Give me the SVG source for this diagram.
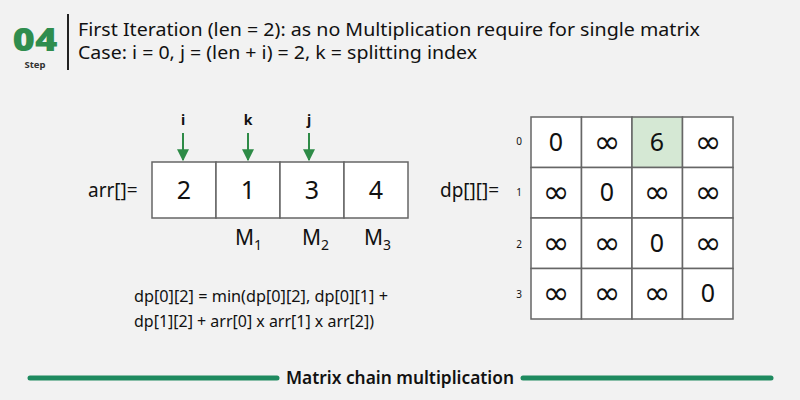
<svg xmlns="http://www.w3.org/2000/svg" width="800" height="400" viewBox="0 0 800 400">
<defs>
<style>
text{font-family:"Noto Sans","Open Sans",sans-serif;fill:#111}
.ttl{font-size:18.5px}
.cell{fill:#fff;stroke:#666;stroke-width:1.5}
.num{font-size:25px;text-anchor:middle}
.inf{font-family:"DejaVu Sans",sans-serif;font-size:32px;text-anchor:middle}
.lab{font-size:19px}
.idx{font-size:10px;text-anchor:middle}
.ptr{font-size:14px;font-weight:bold;text-anchor:middle}
.arr{stroke:#2e8b47;stroke-width:2}
.foot{stroke:#1e8a5f;stroke-width:5;stroke-linecap:round}
</style>
<marker id="ah" viewBox="0 0 10 10" refX="9" refY="5" markerWidth="6" markerHeight="6" orient="auto" markerUnits="strokeWidth"><path d="M0,0L10,5L0,10z" fill="#2e8b47"/></marker>
</defs>
<rect width="800" height="400" fill="#f2f2f2"/>
<g id="header">
<text x="35" y="51" style="font-size:32px;font-weight:900;fill:#2f8d4e" text-anchor="middle" textLength="45" lengthAdjust="spacingAndGlyphs">04</text>
<text x="35" y="68" style="font-size:9.5px;font-weight:bold;fill:#333" text-anchor="middle">Step</text>
<line x1="68" y1="14" x2="68" y2="70" stroke="#222" stroke-width="2"/>
<text class="ttl" x="78" y="36" textLength="622" lengthAdjust="spacingAndGlyphs">First Iteration (len = 2): as no Multiplication require for single matrix</text>
<text class="ttl" x="78" y="59" textLength="399" lengthAdjust="spacingAndGlyphs">Case: i = 0, j = (len + i) = 2, k = splitting index</text>
</g>
<g id="array">
<text class="lab" x="88" y="197">arr[]=</text>
<rect class="cell" x="152" y="162" width="64" height="56"/>
<rect class="cell" x="216" y="162" width="64" height="56"/>
<rect class="cell" x="280" y="162" width="64" height="56"/>
<rect class="cell" x="344" y="162" width="64" height="56"/>
<text class="num" x="184" y="199">2</text>
<text class="num" x="248" y="199">1</text>
<text class="num" x="312" y="199">3</text>
<text class="num" x="376" y="199">4</text>
<text class="lab" x="235" y="245" style="font-size:21px">M<tspan dy="5" style="font-size:14px">1</tspan></text>
<text class="lab" x="302" y="245" style="font-size:21px">M<tspan dy="5" style="font-size:14px">2</tspan></text>
<text class="lab" x="364" y="245" style="font-size:21px">M<tspan dy="5" style="font-size:14px">3</tspan></text>
</g>
<g id="pointers">
<text class="ptr" x="183" y="125">i</text>
<text class="ptr" x="248" y="125">k</text>
<text class="ptr" x="309" y="125">j</text>
<line class="arr" x1="183" y1="133" x2="183" y2="160" marker-end="url(#ah)"/>
<line class="arr" x1="248" y1="133" x2="248" y2="160" marker-end="url(#ah)"/>
<line class="arr" x1="309" y1="133" x2="309" y2="160" marker-end="url(#ah)"/>
</g>
<g id="formula">
<text x="134" y="302" style="font-size:15.5px" textLength="254" lengthAdjust="spacingAndGlyphs">dp[0][2] = min(dp[0][2], dp[0][1] +</text>
<text x="134" y="327" style="font-size:15.5px" textLength="240" lengthAdjust="spacingAndGlyphs">dp[1][2] + arr[0] x arr[1] x arr[2])</text>
</g>
<g id="dp">
<text class="lab" x="440" y="197">dp[][]=</text>
<text class="idx" x="519" y="145">0</text>
<text class="idx" x="519" y="196">1</text>
<text class="idx" x="519" y="248">2</text>
<text class="idx" x="519" y="298">3</text>
<g>
<rect class="cell" x="531" y="117" width="50.5" height="50.5"/>
<rect class="cell" x="581.5" y="117" width="50.5" height="50.5"/>
<rect class="cell" x="632" y="117" width="50.5" height="50.5" style="fill:#d5e8d4"/>
<rect class="cell" x="682.5" y="117" width="50.5" height="50.5"/>
<rect class="cell" x="531" y="167.5" width="50.5" height="50.5"/>
<rect class="cell" x="581.5" y="167.5" width="50.5" height="50.5"/>
<rect class="cell" x="632" y="167.5" width="50.5" height="50.5"/>
<rect class="cell" x="682.5" y="167.5" width="50.5" height="50.5"/>
<rect class="cell" x="531" y="218" width="50.5" height="50.5"/>
<rect class="cell" x="581.5" y="218" width="50.5" height="50.5"/>
<rect class="cell" x="632" y="218" width="50.5" height="50.5"/>
<rect class="cell" x="682.5" y="218" width="50.5" height="50.5"/>
<rect class="cell" x="531" y="268.5" width="50.5" height="50.5"/>
<rect class="cell" x="581.5" y="268.5" width="50.5" height="50.5"/>
<rect class="cell" x="632" y="268.5" width="50.5" height="50.5"/>
<rect class="cell" x="682.5" y="268.5" width="50.5" height="50.5"/>
</g>
<text class="num" x="556" y="151">0</text>
<text class="inf" x="607" y="153">∞</text>
<text class="num" x="657" y="151">6</text>
<text class="inf" x="708" y="153">∞</text>
<text class="inf" x="556" y="203">∞</text>
<text class="num" x="607" y="201">0</text>
<text class="inf" x="657" y="203">∞</text>
<text class="inf" x="708" y="203">∞</text>
<text class="inf" x="556" y="254">∞</text>
<text class="inf" x="607" y="254">∞</text>
<text class="num" x="657" y="252">0</text>
<text class="inf" x="708" y="254">∞</text>
<text class="inf" x="556" y="304">∞</text>
<text class="inf" x="607" y="304">∞</text>
<text class="inf" x="657" y="304">∞</text>
<text class="num" x="708" y="302">0</text>
</g>
<g id="footer">
<line class="foot" x1="30" y1="378" x2="277" y2="378"/>
<line class="foot" x1="523" y1="378" x2="771" y2="378"/>
<text x="400" y="384" text-anchor="middle" textLength="228" lengthAdjust="spacingAndGlyphs" style="font-size:17px;font-weight:600">Matrix chain multiplication</text>
</g>
</svg>
